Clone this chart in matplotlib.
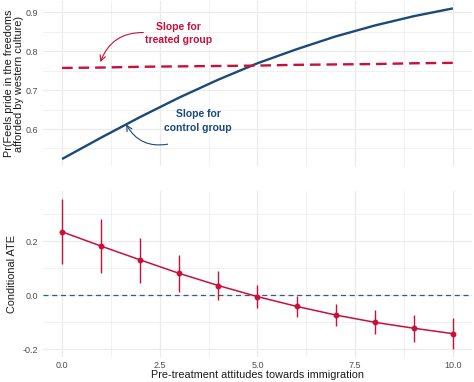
import matplotlib
matplotlib.use("Agg")
import matplotlib.pyplot as plt
import numpy as np

plt.rcParams['font.family'] = ['Liberation Sans', 'DejaVu Sans']

# ---- data ----
x_vals = [0, 1, 2, 3, 4, 5, 6, 7, 8, 9, 10]
control_pr = [0.523, 0.578, 0.631, 0.681, 0.727, 0.769, 0.805, 0.838, 0.866, 0.890, 0.910]
treated_pr = [0.757, 0.758, 0.760, 0.761, 0.762, 0.763, 0.765, 0.766, 0.767, 0.769, 0.770]
ate = [0.234, 0.181, 0.130, 0.080, 0.035, -0.006, -0.042, -0.074, -0.101, -0.123, -0.143]
ate_lo = [0.115, 0.080, 0.046, 0.012, -0.019, -0.049, -0.083, -0.115, -0.146, -0.174, -0.200]
ate_hi = [0.356, 0.283, 0.212, 0.147, 0.089, 0.037, -0.004, -0.035, -0.056, -0.074, -0.086]
x_ticks = [0.0, 2.5, 5.0, 7.5, 10.0]
x_ticklabels = ["0.0", "2.5", "5.0", "7.5", "10.0"]
top_yticks = [0.6, 0.7, 0.8, 0.9]
bot_yticks = [-0.2, 0.0, 0.2]

RED = "#C8103A"
BLUE = "#1B4A78"
GRID = "#EBEBEB"
TICKC = "#4D4D4D"

fig = plt.figure(figsize=(4.74, 3.82), dpi=100)
ax1 = fig.add_axes([0.0897, 0.5644, 0.907, 0.433])
ax2 = fig.add_axes([0.0897, 0.0665, 0.907, 0.4327])

def style(ax):
    for s in ax.spines.values():
        s.set_visible(False)
    ax.set_axisbelow(True)
    ax.grid(which='major', color=GRID, lw=0.9)
    ax.grid(which='minor', color=GRID, lw=0.5)
    ax.tick_params(which='both', length=0, labelsize=6.5, labelcolor=TICKC, pad=3)

# top panel
ax1.plot(x_vals, control_pr, color=BLUE, lw=1.7, solid_capstyle='butt')
ax1.plot(x_vals, treated_pr, color=RED, lw=1.7, ls=(0, (4.5, 2.5)))
ax1.set_xlim(-0.5, 10.5)
ax1.set_ylim(0.504, 0.929)
ax1.set_xticks(x_ticks)
ax1.set_xticks([1.25, 3.75, 6.25, 8.75], minor=True)
ax1.set_xticklabels([])
ax1.set_yticks(top_yticks)
ax1.set_yticks([0.55, 0.65, 0.75, 0.85], minor=True)
ax1.set_yticklabels([f"{v:.1f}" for v in top_yticks])
style(ax1)
fig.text(0.029, 0.781, "Pr(Feels pride in the freedoms\nafforded by western culture)",
         fontsize=7.8, color="#1A1A1A", rotation=90, ha='center', va='center',
         linespacing=1.0)

ax1.text(2.98, 0.845, "Slope for\ntreated group", color=RED, fontsize=7.5,
         fontweight='bold', ha='center', va='center', linespacing=1.45)
ax1.annotate("", xy=(0.98, 0.772), xytext=(2.08, 0.848),
             arrowprops=dict(arrowstyle="->", color=RED, lw=0.8,
                             connectionstyle="arc3,rad=0.35", shrinkA=0, shrinkB=0))
ax1.text(3.48, 0.621, "Slope for\ncontrol group", color=BLUE, fontsize=7.5,
         fontweight='bold', ha='center', va='center', linespacing=1.45)
ax1.annotate("", xy=(1.64, 0.612), xytext=(2.70, 0.561),
             arrowprops=dict(arrowstyle="->", color=BLUE, lw=0.8,
                             connectionstyle="arc3,rad=-0.35", shrinkA=0, shrinkB=0))

# bottom panel
ax2.axhline(0, color="#3A5A82", lw=0.9, ls=(0, (4, 3)))
yerr = [np.array(ate) - np.array(ate_lo), np.array(ate_hi) - np.array(ate)]
ax2.errorbar(x_vals, ate, yerr=yerr, fmt='none', ecolor=RED, elinewidth=1.0, capsize=0)
ax2.plot(x_vals, ate, color=RED, lw=1.1, marker='o', ms=3.2)
ax2.set_xlim(-0.5, 10.5)
ax2.set_ylim(-0.228, 0.384)
ax2.set_xticks(x_ticks)
ax2.set_xticks([1.25, 3.75, 6.25, 8.75], minor=True)
ax2.set_xticklabels(x_ticklabels)
ax2.set_yticks(bot_yticks)
ax2.set_yticks([-0.1, 0.1, 0.3], minor=True)
ax2.set_yticklabels(["-0.2", "0.0", "0.2"])
style(ax2)
fig.text(0.025, 0.284, "Conditional ATE", fontsize=7.8, color="#1A1A1A",
         rotation=90, ha='center', va='center')
ax2.set_xlabel("Pre-treatment attitudes towards immigration", fontsize=7.8,
               color="#1A1A1A", labelpad=0)

fig.savefig("out.png", dpi=100)
